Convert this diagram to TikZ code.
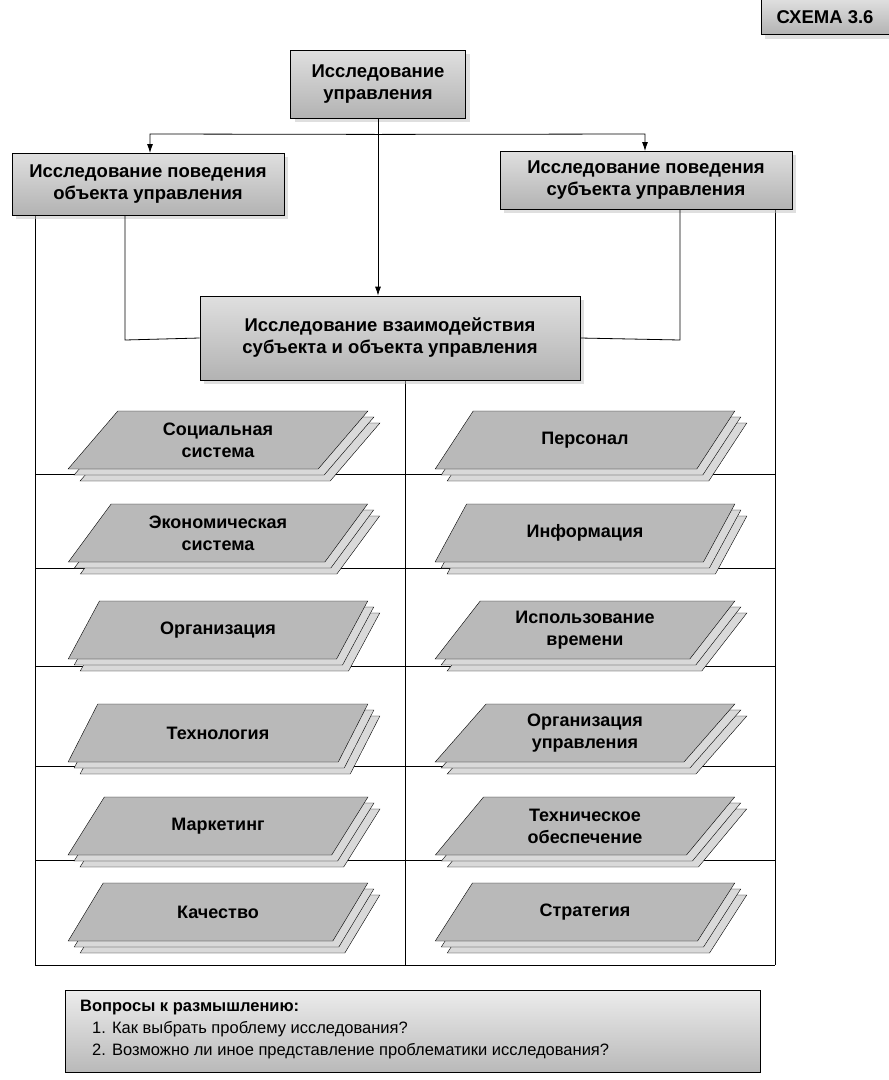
\documentclass[tikz,border=0pt]{standalone}
\usepackage{fontspec}
\setmainfont{Liberation Sans}
\usetikzlibrary{shapes.geometric,arrows.meta,shadows}
\begin{document}
\begin{tikzpicture}[x=1pt,y=-1pt,
  box/.style={draw=black,line width=0.8pt,top color=gray!25,bottom color=gray!60,align=center,font=\fontsize{18.5}{22}\selectfont\bfseries,drop shadow={shadow xshift=4pt,shadow yshift=-4pt,fill=gray!50}},
  para/.style={trapezium,trapezium left angle=55,trapezium right angle=125,draw=black,fill=gray!55,minimum width=300pt,minimum height=58pt,trapezium stretches=true,align=center,font=\fontsize{18}{22}\selectfont\bfseries,double copy shadow={shadow xshift=6pt,shadow yshift=-6pt,fill=gray!30,draw=black}},
  ln/.style={line width=0.8pt},
  arr/.style={ln,-{Latex[length=9pt,width=6pt]}}]
\useasboundingbox (0,0) rectangle (889,1080);
\draw[ln] (35,215) -- (35,965);
\draw[ln] (775,209) -- (775,965);
\draw[ln] (405,380) -- (405,965);
\foreach \y in {474,568,666,766,860,965} \draw[ln] (35,\y) -- (775,\y);
\node[box,minimum width=128pt,minimum height=35pt,inner sep=3pt] (hdr) at (825,17) {СХЕМА 3.6};
\node[box,minimum width=175pt,minimum height=68pt] (top) at (378,84) {Исследование\\управления};
\node[box,minimum width=272pt,minimum height=62pt] (L) at (148,184) {Исследование поведения\\объекта управления};
\node[box,minimum width=292pt,minimum height=58pt] (R) at (646,180) {Исследование поведения\\субъекта управления};
\node[box,minimum width=380pt,minimum height=84pt] (M) at (390,338) {Исследование взаимодействия\\субъекта и объекта управления};
\coordinate (tl) at (150,134); \coordinate (tr) at (645,134);
\draw[ln] (top.south) -- ++(0,16) coordinate (tj);
\draw[arr] (tj) -- (tl) -- (150,153);
\draw[arr] (tj) -- (tr) -- (645,151);
\draw[arr] (tj) -- (tj|-M.north);
\draw[ln] (125,215) -- (125,340) -- (M.west);
\draw[ln] (680,209) -- (680,340) -- (M.east);
\foreach \y/\a/\b [count=\i] in {440/{Социальная\\система}/Персонал,533/{Экономическая\\система}/Информация,630/Организация/{Использование\\времени},733/Технология/{Организация\\управления},826/Маркетинг/{Техническое\\обеспечение},912/Качество/Стратегия}{
  \node[para] (l\i) at (218,\y) {\a};
  \node[para] (r\i) at (585,\y) {\b};
}
\node[draw=black,line width=0.8pt,top color=gray!15,bottom color=gray!55,minimum width=695pt,minimum height=82pt,anchor=north west] (Q) at (65,990) {};
\node[anchor=north west,align=left,font=\fontsize{16.5}{22}\selectfont,inner sep=0pt] (qt) at (80,1000) {\textbf{Вопросы к размышлению:}\\\hspace*{12pt}1. Как выбрать проблему исследования?\\\hspace*{12pt}2. Возможно ли иное представление проблематики исследования?};
\end{tikzpicture}
\end{document}
